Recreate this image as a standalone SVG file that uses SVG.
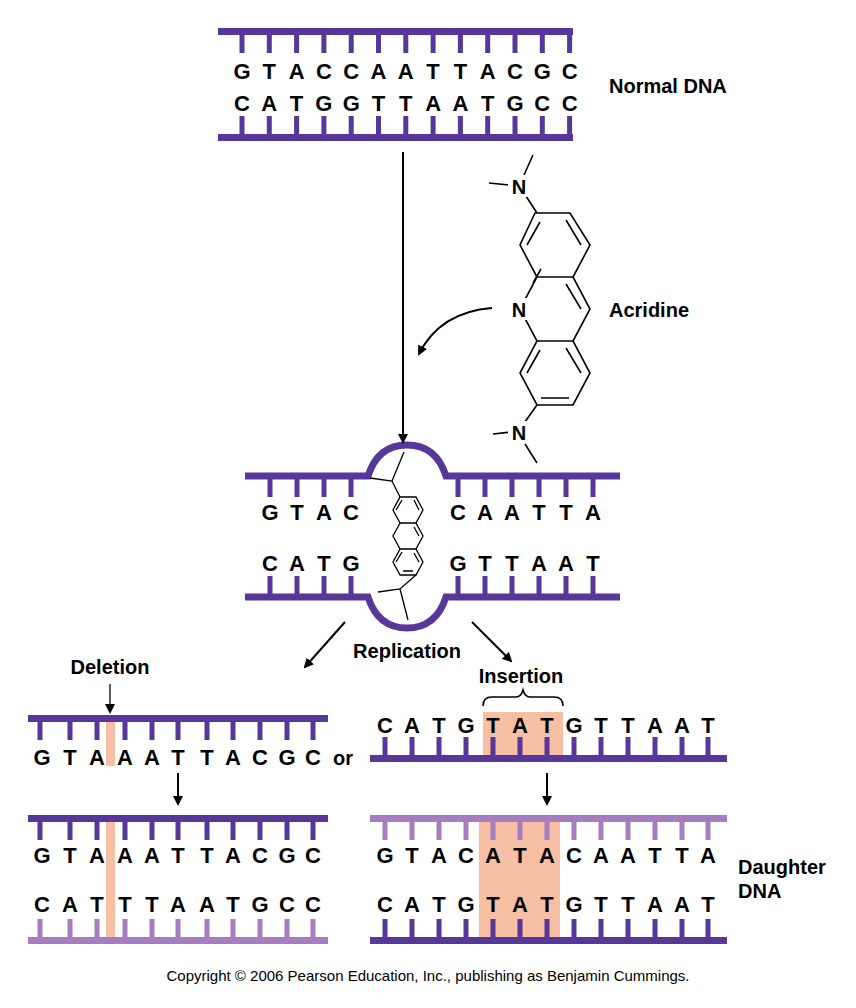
<svg xmlns="http://www.w3.org/2000/svg" width="856" height="1008" viewBox="0 0 856 1008">
<style>
.d{stroke:#57389A;fill:none}
.l{stroke:#A67DC0;fill:none}
.b{font-family:"Liberation Sans",Arial,sans-serif;font-weight:bold;font-size:22px;text-anchor:middle;fill:#000}
.lab{font-family:"Liberation Sans",Arial,sans-serif;font-weight:bold;font-size:20px;fill:#000}
.k{stroke:#000;stroke-width:1.6;fill:none}
.pk{fill:#F7BFA3}
</style>
<defs>
<marker id="ah" markerWidth="10" markerHeight="10" refX="8" refY="5" orient="auto" markerUnits="userSpaceOnUse"><path d="M0,0 L10,5 L0,10 z" fill="#000"/></marker>
</defs>
<rect width="856" height="1008" fill="#fff"/>

<g id="normal-dna">
<path class="d" stroke-width="7" d="M218,31.5H573M218,137.5H573"/>
<path class="d" stroke-width="5" d="M242,35V53M269.3,35V53M296.6,35V53M323.9,35V53M351.2,35V53M378.5,35V53M405.8,35V53M433.1,35V53M460.4,35V53M487.7,35V53M515,35V53M542.3,35V53M569.6,35V53M242,116V134M269.3,116V134M296.6,116V134M323.9,116V134M351.2,116V134M378.5,116V134M405.8,116V134M433.1,116V134M460.4,116V134M487.7,116V134M515,116V134M542.3,116V134M569.6,116V134"/>
<g class="b">
<text x="242" y="79">G</text><text x="269.3" y="79">T</text><text x="296.6" y="79">A</text><text x="323.9" y="79">C</text><text x="351.2" y="79">C</text><text x="378.5" y="79">A</text><text x="405.8" y="79">A</text><text x="433.1" y="79">T</text><text x="460.4" y="79">T</text><text x="487.7" y="79">A</text><text x="515" y="79">C</text><text x="542.3" y="79">G</text><text x="569.6" y="79">C</text>
<text x="242" y="111">C</text><text x="269.3" y="111">A</text><text x="296.6" y="111">T</text><text x="323.9" y="111">G</text><text x="351.2" y="111">G</text><text x="378.5" y="111">T</text><text x="405.8" y="111">T</text><text x="433.1" y="111">A</text><text x="460.4" y="111">A</text><text x="487.7" y="111">T</text><text x="515" y="111">G</text><text x="542.3" y="111">C</text><text x="569.6" y="111">C</text>
</g>
<text class="lab" x="609" y="93">Normal DNA</text>
</g>

<g id="acridine">
<g class="k">
<path d="M535,213H570L590,245L573,277L590,309L573,341L590,373L573,405H537L520,373L537,341L520,309L537,277L520,245Z"/>
<path d="M537,277H573M537,341H573"/>
<path d="M527,245L540,222M566,220L581,245M566,284L581,309M533,283L541,269M527,373L540,350M566,348L581,373M541,398H569"/>
<path d="M537,213L520,187M533,155L524,175M489,183L509,185M537,405L522,426M493,434L511,432M525,444L537,463"/>
</g>
<rect x="508" y="175" width="22" height="22" fill="#fff"/>
<rect x="508" y="298" width="22" height="22" fill="#fff"/>
<rect x="508" y="421" width="22" height="22" fill="#fff"/>
<text class="lab" x="519" y="194" text-anchor="middle">N</text>
<text class="lab" x="519" y="317" text-anchor="middle">N</text>
<text class="lab" x="519" y="440" text-anchor="middle">N</text>
<text class="lab" x="609" y="317">Acridine</text>
</g>

<g id="intercalated-dna">
<path class="d" stroke-width="7" d="M245,476H368Q378,445 407,445Q436,445 446,476H620"/>
<path class="d" stroke-width="7" d="M245,597H368Q378,628 407,628Q436,628 446,597H620"/>
<path class="d" stroke-width="5" d="M270,479V497M297,479V497M324,479V497M351,479V497M458,479V497M485,479V497M512,479V497M539,479V497M566,479V497M593,479V497M270,576V594M297,576V594M324,576V594M351,576V594M458,576V594M485,576V594M512,576V594M539,576V594M566,576V594M593,576V594"/>
<g class="b">
<text x="270" y="520">G</text><text x="297" y="520">T</text><text x="324" y="520">A</text><text x="351" y="520">C</text>
<text x="458" y="520">C</text><text x="485" y="520">A</text><text x="512" y="520">A</text><text x="539" y="520">T</text><text x="566" y="520">T</text><text x="593" y="520">A</text>
<text x="270" y="571">C</text><text x="297" y="571">A</text><text x="324" y="571">T</text><text x="351" y="571">G</text>
<text x="458" y="571">G</text><text x="485" y="571">T</text><text x="512" y="571">T</text><text x="539" y="571">A</text><text x="566" y="571">A</text><text x="593" y="571">T</text>
</g>
<g stroke="#000" stroke-width="1.3" fill="none">
<path d="M400,497H416L423,510L416,523L423,536L416,549L423,562L416,575H400L393,562L400,549L393,536L400,523L393,510Z"/>
<path d="M400,523H416M400,549H416"/>
<path d="M396,510L402,500M414,500L419,510M414,527L419,536M396,562L402,552M414,553L419,562M403,571H413"/>
<path d="M400,497L392,481L370,478M392,481L404,452M416,575L400,589L378,592M400,589L408,620"/>
</g>
</g>

<g id="labels">
<text class="lab" x="407" y="658" text-anchor="middle">Replication</text>
<text class="lab" x="110" y="674" text-anchor="middle">Deletion</text>
<text class="lab" x="521" y="683" text-anchor="middle">Insertion</text>
<text class="lab" x="333" y="765">or</text>
<text class="lab" x="738" y="874">Daughter</text>
<text class="lab" x="738" y="898">DNA</text>
<text x="428" y="981" text-anchor="middle" font-family="Liberation Sans, Arial, sans-serif" font-size="15">Copyright © 2006 Pearson Education, Inc., publishing as Benjamin Cummings.</text>
</g>

<g id="deletion-strand">
<rect class="pk" x="106" y="722" width="9" height="44"/>
<path class="d" stroke-width="7" d="M28,718.5H328"/>
<path class="d" stroke-width="5" d="M40,722V740M70,722V740M97,722V740M125,722V740M152,722V740M178,722V740M207,722V740M233,722V740M260,722V740M287,722V740M313,722V740"/>
<g class="b">
<text x="42" y="765">G</text><text x="70" y="765">T</text><text x="97" y="765">A</text><text x="125" y="765">A</text><text x="152" y="765">A</text><text x="178" y="765">T</text><text x="207" y="765">T</text><text x="233" y="765">A</text><text x="260" y="765">C</text><text x="287" y="765">G</text><text x="313" y="765">C</text>
</g>
</g>

<g id="deletion-daughter">
<rect class="pk" x="106" y="822" width="9" height="115"/>
<path class="d" stroke-width="7" d="M28,818.5H328"/>
<path class="l" stroke-width="7" d="M28,940.5H328"/>
<path class="d" stroke-width="5" d="M40,822V840M70,822V840M97,822V840M125,822V840M152,822V840M178,822V840M207,822V840M233,822V840M260,822V840M287,822V840M313,822V840"/>
<path class="l" stroke-width="5" d="M40,919V937M70,919V937M97,919V937M125,919V937M152,919V937M178,919V937M207,919V937M233,919V937M260,919V937M287,919V937M313,919V937"/>
<g class="b">
<text x="42" y="863">G</text><text x="70" y="863">T</text><text x="97" y="863">A</text><text x="125" y="863">A</text><text x="152" y="863">A</text><text x="178" y="863">T</text><text x="207" y="863">T</text><text x="233" y="863">A</text><text x="260" y="863">C</text><text x="287" y="863">G</text><text x="313" y="863">C</text>
<text x="42" y="912">C</text><text x="70" y="912">A</text><text x="97" y="912">T</text><text x="125" y="912">T</text><text x="152" y="912">T</text><text x="178" y="912">A</text><text x="207" y="912">A</text><text x="233" y="912">T</text><text x="260" y="912">G</text><text x="287" y="912">C</text><text x="313" y="912">C</text>
</g>
</g>

<g id="insertion-strand">
<rect class="pk" x="483" y="712" width="80" height="43"/>
<path class="d" stroke-width="7" d="M370,758.5H727"/>
<path class="d" stroke-width="5" d="M385,737V755M412,737V755M439,737V755M466,737V755M493,737V755M520,737V755M547,737V755M574,737V755M601,737V755M628,737V755M655,737V755M682,737V755M708,737V755"/>
<g class="b">
<text x="385" y="733">C</text><text x="412" y="733">A</text><text x="439" y="733">T</text><text x="466" y="733">G</text><text x="493" y="733">T</text><text x="520" y="733">A</text><text x="547" y="733">T</text><text x="574" y="733">G</text><text x="601" y="733">T</text><text x="628" y="733">T</text><text x="655" y="733">A</text><text x="682" y="733">A</text><text x="708" y="733">T</text>
</g>
<path class="k" stroke-width="1.3" d="M483,706Q483,697 492,697H516Q521,697 523,690Q525,697 530,697H554Q563,697 563,706"/>
</g>

<g id="insertion-daughter">
<rect class="pk" x="479" y="822" width="81" height="115"/>
<path class="l" stroke-width="7" d="M370,818.5H727"/>
<path class="d" stroke-width="7" d="M370,940.5H727"/>
<path class="l" stroke-width="5" d="M385,822V840M412,822V840M439,822V840M466,822V840M493,822V840M520,822V840M547,822V840M574,822V840M601,822V840M628,822V840M655,822V840M682,822V840M708,822V840"/>
<path class="d" stroke-width="5" d="M385,919V937M412,919V937M439,919V937M466,919V937M493,919V937M520,919V937M547,919V937M574,919V937M601,919V937M628,919V937M655,919V937M682,919V937M708,919V937"/>
<g class="b">
<text x="385" y="863">G</text><text x="412" y="863">T</text><text x="439" y="863">A</text><text x="466" y="863">C</text><text x="493" y="863">A</text><text x="520" y="863">T</text><text x="547" y="863">A</text><text x="574" y="863">C</text><text x="601" y="863">A</text><text x="628" y="863">A</text><text x="655" y="863">T</text><text x="682" y="863">T</text><text x="708" y="863">A</text>
<text x="385" y="912">C</text><text x="412" y="912">A</text><text x="439" y="912">T</text><text x="466" y="912">G</text><text x="493" y="912">T</text><text x="520" y="912">A</text><text x="547" y="912">T</text><text x="574" y="912">G</text><text x="601" y="912">T</text><text x="628" y="912">T</text><text x="655" y="912">A</text><text x="682" y="912">A</text><text x="708" y="912">T</text>
</g>
</g>

<g id="connectors" stroke="#000" stroke-width="2" fill="none">
<path d="M403,152V442" marker-end="url(#ah)"/>
<path d="M492,308Q440,312 419,354" marker-end="url(#ah)"/>
<path d="M345,622L305,667" marker-end="url(#ah)"/>
<path d="M472,622L511,661" marker-end="url(#ah)"/>
<path d="M110,684V712" stroke-width="1.3" marker-end="url(#ah)"/>
<path d="M178,773V804" marker-end="url(#ah)"/>
<path d="M547,773V804" marker-end="url(#ah)"/>
</g>
</svg>
